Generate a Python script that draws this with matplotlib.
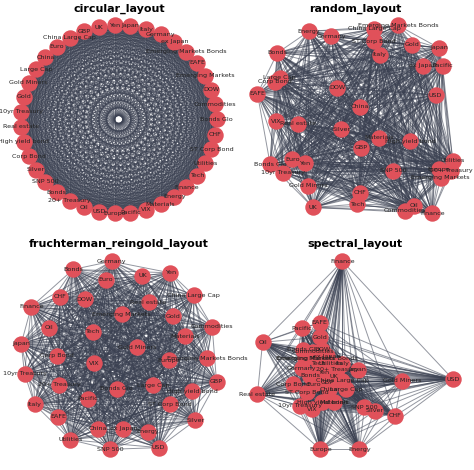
import numpy as np
import matplotlib
matplotlib.use("Agg")
import matplotlib.pyplot as plt
from matplotlib.collections import LineCollection

labels = ["Bonds Glo", "Commodities", "DOW", "Emerging Markets", "EAFE", "Emerging Markets Bonds",
          "ex Japan", "Germany", "Italy", "Japan", "Yen", "UK", "GBP", "China Large Cap", "Euro",
          "China", "Large Cap", "Gold Miners", "Gold", "10yr Treasury", "Real estate", "High yield bond",
          "Corp Bond", "Silver", "SNP 500", "Bonds", "20+ Treasury", "Oil", "USD", "Europe", "Pacific",
          "VIX", "Materials", "Energy", "Finance", "Tech", "Utilities", "ST Corp Bond", "CHF"]

# positions (image-like coords, y downward); "?" = unreadable label
random_pos = [("Energy", 240, 80), ("Germany", 305, 95), ("?", 430, 72), ("Emerging Markets Bonds", 500, 62),
              ("Gold", 540, 120), ("Japan", 620, 130), ("Bonds", 148, 145), ("Italy", 447, 150),
              ("ex Japan", 573, 183), ("Pacific", 630, 183), ("Large Cap", 155, 220), ("Corp Bond", 140, 232),
              ("DOW", 322, 250), ("EAFE", 90, 268), ("USD", 610, 272), ("?", 390, 307), ("VIX", 145, 350),
              ("?", 208, 358), ("Silver", 335, 375), ("Materials", 445, 400), ("?", 535, 410), ("GBP", 393, 430),
              ("Utilities", 660, 470), ("Bonds Glo", 127, 480), ("Euro", 192, 465), ("Yen", 228, 477),
              ("10yr Treasury", 165, 505), ("20+ Treasury", 655, 500), ("SNP 500", 485, 500),
              ("Emerging Markets", 625, 520), ("Gold Miners", 238, 545), ("CHF", 388, 566), ("Tech", 380, 600),
              ("UK", 252, 610), ("Oil", 546, 605), ("Commodities", 520, 620), ("Finance", 600, 628),
              ("?", 620, 495), ("?", 430, 110)]
spring_pos = [("Germany", 305, 88), ("Bonds", 190, 112), ("Euro", 288, 142), ("UK", 397, 130), ("Yen", 480, 122),
              ("CHF", 150, 192), ("DOW", 225, 200), ("Real estate", 415, 208), ("China Large Cap", 550, 188),
              ("Finance", 65, 222), ("Emerging Markets", 335, 243), ("Gold", 488, 250), ("Oil", 118, 283),
              ("Tech", 248, 295), ("Commodities", 605, 280), ("Materials", 525, 308), ("Japan", 35, 330),
              ("Gold Miners", 382, 340), ("Corp Bond", 143, 365), ("VIX", 252, 388), ("Europe", 475, 378),
              ("?", 590, 372), ("10yr Treasury", 45, 418), ("20+ Treasury", 148, 450), ("Bonds Glo", 320, 462),
              ("?", 428, 452), ("?", 545, 470), ("GBP", 618, 442), ("Italy", 75, 508), ("?", 233, 492),
              ("?", 480, 508), ("EAFE", 145, 545), ("China", 265, 580), ("ex Japan", 340, 580),
              ("Energy", 412, 588), ("Silver", 555, 555), ("Utilities", 182, 612), ("SNP 500", 300, 640),
              ("USD", 445, 635)]
spectral_pos = [("Finance", 345, 88), ("EAFE", 278, 272), ("Pacific", 225, 288), ("Gold", 280, 315), ("Oil", 110, 330),
                ("?", 230, 352), ("?", 258, 358), ("?", 285, 352), ("?", 235, 378), ("?", 270, 380), ("?", 300, 372),
                ("?", 225, 408), ("?", 345, 395), ("?", 390, 412), ("?", 290, 420), ("?", 320, 432), ("?", 300, 450),
                ("?", 345, 445), ("?", 260, 455), ("Corp Bond", 200, 455), ("?", 305, 470), ("?", 355, 470),
                ("?", 520, 445), ("USD", 670, 440), ("Real estate", 95, 485), ("?", 220, 520), ("VIX", 255, 530),
                ("?", 285, 510), ("Materials", 320, 510), ("?", 440, 535), ("CHF", 500, 550), ("Europe", 280, 650),
                ("Energy", 395, 650), ("?", 410, 525), ("?", 250, 430), ("?", 330, 410), ("?", 275, 395),
                ("?", 310, 395), ("?", 240, 480)]


def resolve(plist):
    used = {p[0] for p in plist if p[0] != "?"}
    rest = [l for l in labels if l not in used]
    out = {}
    for name, x, y in plist:
        if name == "?":
            name = rest.pop(0) if rest else None
        if name:
            out[name] = (x, -y)
    for l in rest:
        out[l] = (340, -350)
    return out


n = len(labels)
ang = 2 * np.pi * np.arange(n) / n
circ = {l: (np.cos(a), np.sin(a)) for l, a in zip(labels, ang)}
layouts = [("circular_layout", circ), ("random_layout", resolve(random_pos)),
           ("fruchterman_reingold_layout", resolve(spring_pos)), ("spectral_layout", resolve(spectral_pos))]

edges = [(labels[i], labels[j]) for i in range(n) for j in range(i + 1, n)]

fig, axes = plt.subplots(2, 2, figsize=(4.74, 4.70), dpi=100)
for ax, (title, pos) in zip(axes.flat, layouts):
    segs = [[pos[a], pos[b]] for a, b in edges]
    ax.add_collection(LineCollection(segs, colors="#3b4152", linewidths=0.7, alpha=0.55, zorder=1))
    xy = np.array([pos[l] for l in labels])
    ax.scatter(xy[:, 0], xy[:, 1], s=140, c="#e0515a", zorder=2, linewidths=0)
    for l in labels:
        ax.text(pos[l][0], pos[l][1], l, fontsize=4.6, ha="center", va="center", color="#222222", zorder=3)
    ax.set_title(title, fontsize=8, fontweight="bold", pad=2)
    ax.margins(0.06)
    ax.autoscale_view()
    ax.axis("off")
plt.subplots_adjust(left=0.02, right=0.98, top=0.97, bottom=0.02, wspace=0.08, hspace=0.12)
fig.savefig("out.png", dpi=100)
